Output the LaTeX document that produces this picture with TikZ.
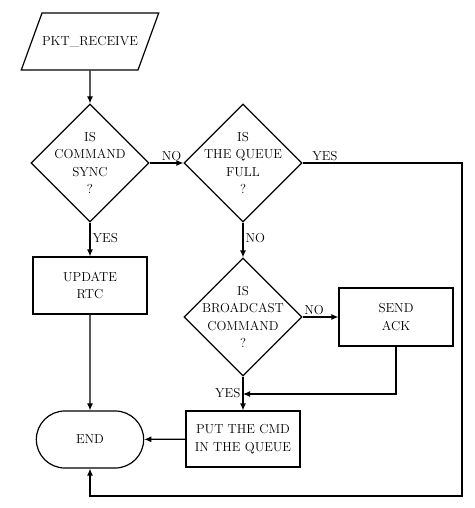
\documentclass[tikz,border=0pt]{standalone}
\usetikzlibrary{shapes.geometric,shapes.misc,arrows.meta}
\begin{document}
\begin{tikzpicture}[x=1pt, y=-1pt,
    every node/.style={font=\fontsize{13}{17.5}\selectfont},
    box/.style={draw, line width=1.2pt, rectangle, align=center,
      minimum width=114pt, minimum height=57pt},
    decision/.style={draw, line width=1.2pt, diamond, aspect=1, align=center,
      inner sep=-10pt, minimum width=118pt, minimum height=118pt},
    io/.style={draw, line width=1.2pt, trapezium, trapezium left angle=70,
      trapezium right angle=110, trapezium stretches body,
      text height=9pt, text depth=0pt, inner ysep=24pt, inner xsep=0pt},
    terminal/.style={draw, line width=1.2pt, rounded rectangle,
      minimum width=114pt, minimum height=57pt},
    flow/.style={line width=1.2pt, -{Latex[length=7pt,width=6pt]}},
    lbl/.style={inner sep=2pt}]
      \useasboundingbox (0,0) rectangle (474,508);

      % Nodes
      \node[io] (recv) at (90,41.5) {PKT\_RECEIVE};
      \node[decision] (sync) at (90,163) {IS\\COMMAND\\SYNC\\?};
      \node[decision] (full) at (243,163) {IS\\THE QUEUE\\FULL\\?};
      \node[box] (rtc) at (90,285.5) {UPDATE\\RTC};
      \node[decision] (bcast) at (243,317) {IS\\BROADCAST\\COMMAND\\?};
      \node[box, minimum height=58pt] (ack) at (396,317) {SEND\\ACK};
      \node[box, minimum height=56pt] (put) at (243,439) {PUT THE CMD\\IN THE QUEUE};
      \node[terminal] (end) at (90,439.5) {END};

      % Helper points
      \coordinate (join) at (243,394);
      \coordinate (loop) at (462,496);

      % Connectors
      \draw[flow] (recv) -- (sync);
      \draw[flow] (sync) -- node[lbl, above, pos=0.65] {NO} (full);
      \draw[flow] (sync) -- node[lbl, right, pos=0.45] {YES} (rtc);
      \draw[flow] (rtc) -- (end);
      \draw[flow] (full) -- node[lbl, right, pos=0.45] {NO} (bcast);
      \draw[flow] (full.east) -- node[lbl, above, pos=0.14] {YES} (full.east -| loop)
        -- (loop) -| (end.south);
      \draw[flow] (bcast) -- node[lbl, above, pos=0.32] {NO} (ack);
      \draw[flow] (bcast) -- node[lbl, left, pos=0.5] {YES} (put);
      \draw[flow] (ack.south) |- (join);
      \draw[flow] (put) -- (end);
    \end{tikzpicture}
\end{document}
